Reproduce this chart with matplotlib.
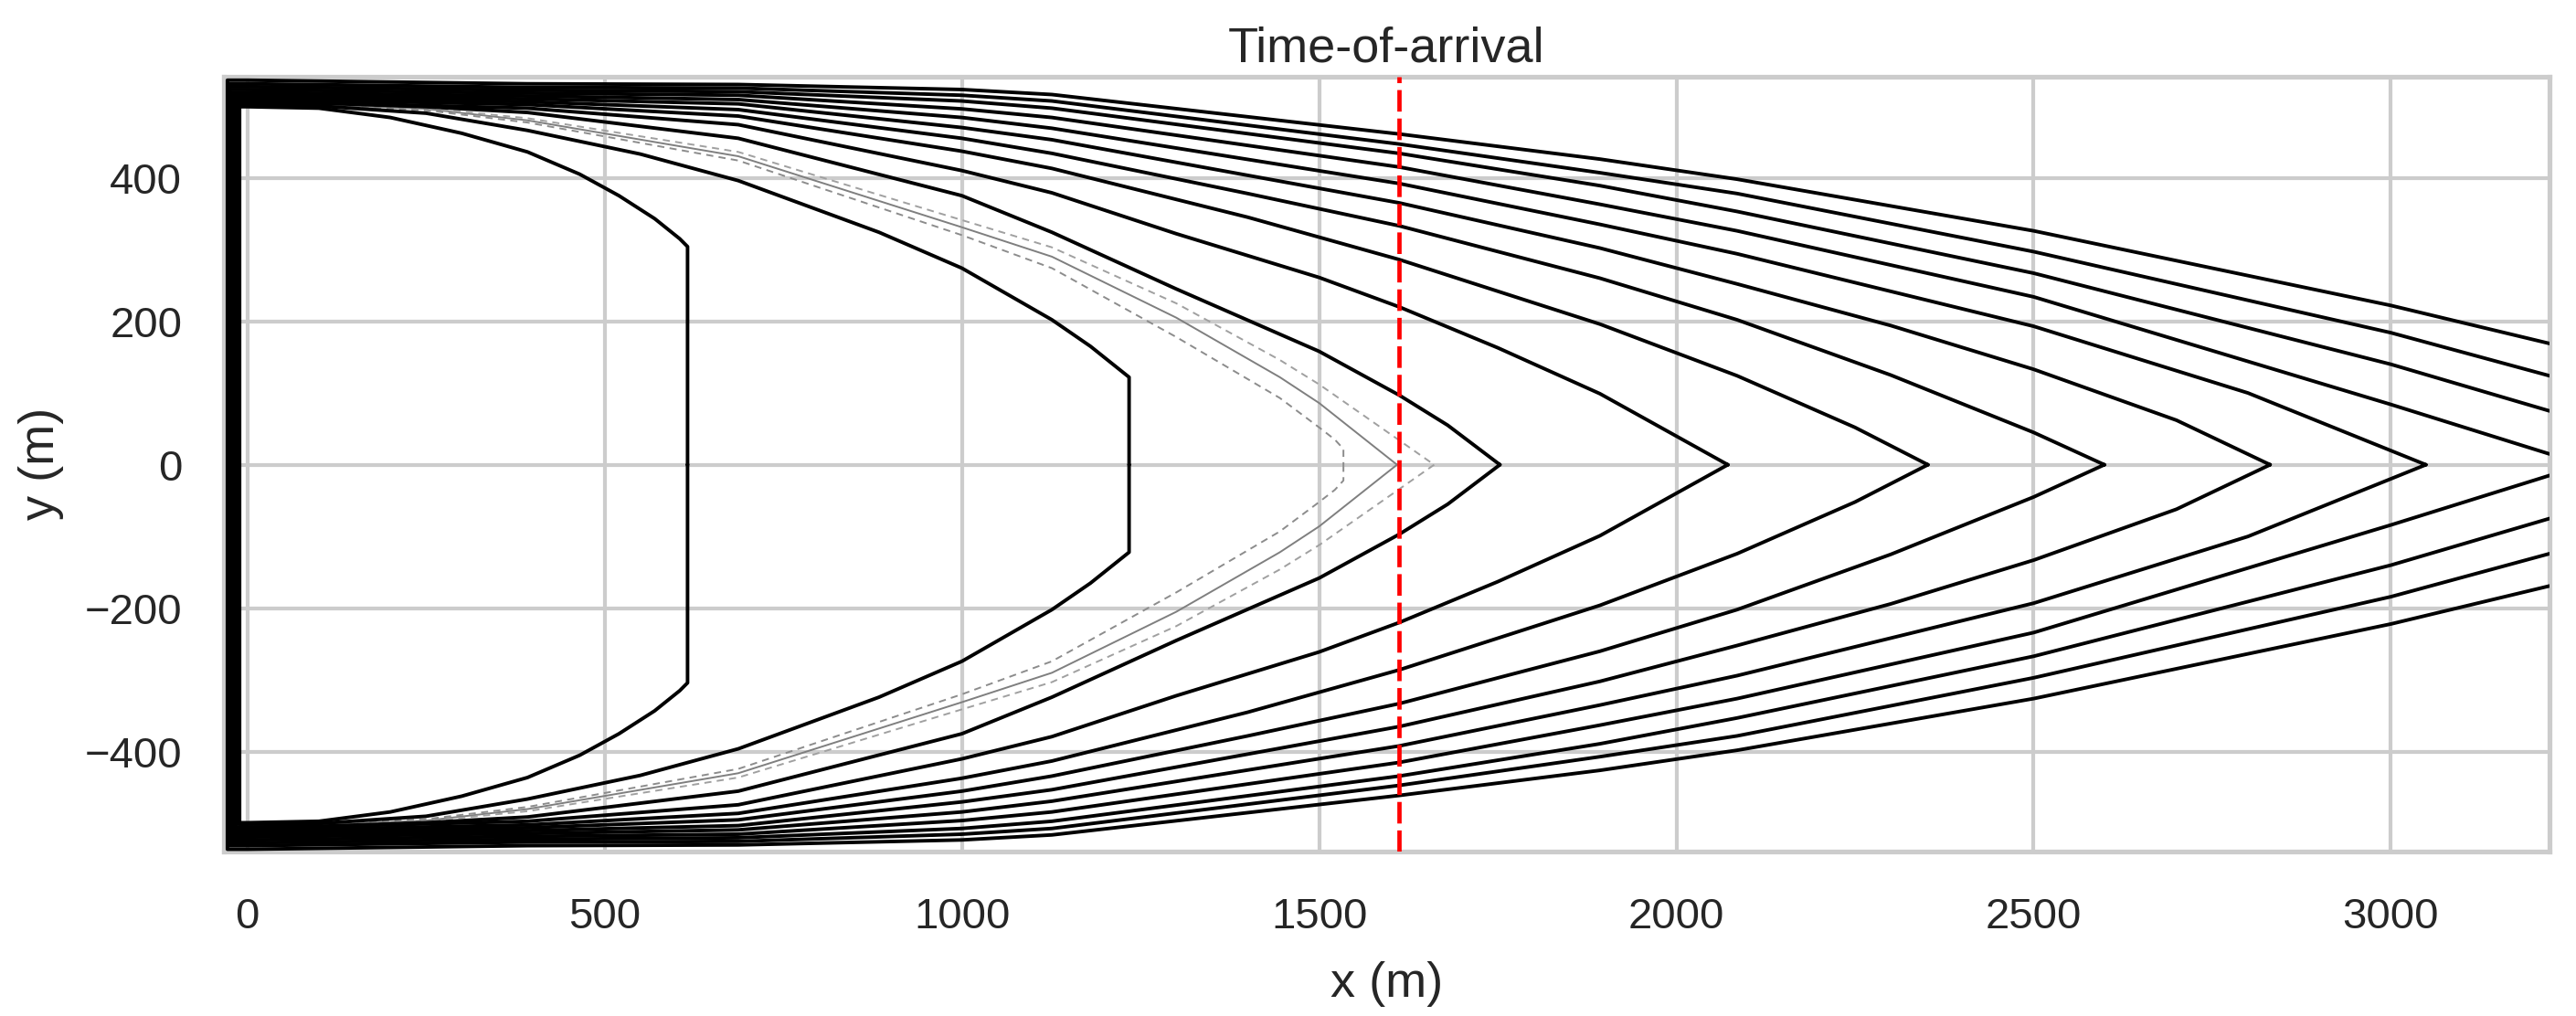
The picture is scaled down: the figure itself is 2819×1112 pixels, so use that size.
import matplotlib
matplotlib.use("Agg")
import matplotlib.pyplot as plt
import seaborn as sns

# ---------------------------------------------------------------------------
# Arrival fronts, upper half (y >= 0); the lower half
# is the mirror image. LEFT_LEG is the x of each front's leg on the left edge.
# ---------------------------------------------------------------------------

C1_X = [0, 100, 200, 300, 392, 465, 520, 570, 605, 616, 616]
C1_Y = [499, 497, 484, 462, 436, 405, 375, 343, 315, 304, 0]

C2_X = [0, 100, 250, 392, 550, 687, 884, 1000, 1126, 1180, 1234, 1234]
C2_Y = [501, 500, 490, 466, 433, 396, 324, 274, 202, 165, 122, 0]

G1_X = [0, 100, 250, 392, 687, 1000, 1126, 1300, 1445, 1500, 1522, 1534, 1534]
G1_Y = [502, 501, 494, 477, 424, 320, 274, 178, 93, 52, 35, 22, 0]

G2_X = [0, 100, 250, 392, 687, 1000, 1126, 1300, 1445, 1500, 1609]
G2_Y = [503, 502, 496, 480, 430, 331, 290, 205, 122, 86, 0]

G3_X = [0, 100, 250, 392, 687, 1000, 1126, 1300, 1445, 1500, 1661]
G3_Y = [504, 503, 497, 483, 436, 341, 303, 225, 146, 112, 0]

C3_X = [0, 100, 250, 392, 687, 1000, 1126, 1300, 1500, 1612, 1680, 1753]
C3_Y = [505, 504, 499, 491, 455, 375, 324, 245, 158, 97, 55, 0]

C4_X = [0, 392, 687, 1000, 1126, 1300, 1500, 1612, 1750, 1893, 2072]
C4_Y = [507, 497, 474, 410, 379, 322, 261, 220, 163, 99, 0]

C5_X = [0, 392, 687, 1000, 1126, 1400, 1612, 1893, 2085, 2250, 2352]
C5_Y = [510, 502, 486, 437, 413, 345, 286, 196, 124, 52, 0]

C6_X = [0, 392, 687, 1000, 1126, 1400, 1612, 1893, 2085, 2300, 2500, 2599]
C6_Y = [513, 506, 495, 455, 434, 378, 333, 260, 202, 125, 45, 0]

C7_X = [0, 392, 687, 1000, 1126, 1612, 1893, 2085, 2300, 2500, 2700, 2831]
C7_Y = [516, 510, 503, 470, 453, 365, 302, 252, 194, 133, 62, 0]

C8_X = [0, 392, 687, 1000, 1126, 1612, 1893, 2085, 2500, 2800, 3049]
C8_Y = [519, 514, 509, 484, 469, 392, 335, 294, 193, 100, 0]

# outer fronts leave the plot on the right edge
OUTER_X = [0, 392, 687, 1000, 1126, 1612, 1893, 2085, 2500, 3000, 3222]
C9_Y = [523, 518, 515, 496, 484, 415, 363, 326, 234, 84, 15]
C10_Y = [527, 522, 520, 507, 497, 434, 389, 353, 267, 140, 75]
C11_Y = [531, 526, 525, 515, 507, 447, 407, 378, 297, 184, 124]
C12_Y = [536, 531, 530, 523, 516, 461, 426, 398, 326, 222, 169]

LEFT_LEG = {"c1": -11, "c2": -12, "g1": -13, "g2": -14, "g3": -15,
            "c3": -16, "c4": -17.5, "c5": -19, "c6": -20.5, "c7": -22,
            "c8": -23, "c9": -24.5, "c10": -25.5, "c11": -26.5, "c12": -28}

MARKER_X = 1612  # red dashed reference line

XTICKS = [0, 500, 1000, 1500, 2000, 2500, 3000]
YTICKS = [-400, -200, 0, 200, 400]


def front_path(xs, ys, left):
    """Close the upper half with its mirror and the short left leg."""
    lower_x = list(reversed(xs))
    lower_y = [-v for v in reversed(ys)]
    px = lower_x + [left, left] + list(xs)
    py = lower_y + [-ys[0], ys[0]] + list(ys)
    return px, py


sns.set_theme(style="whitegrid", context="talk")
plt.rcParams["font.family"] = ["Liberation Sans", "DejaVu Sans"]

fig = plt.figure(figsize=(14.095, 5.56), dpi=200)
ax = fig.add_axes([0.0869, 0.162, 0.9028, 0.7626])

black = dict(color="black", linewidth=1.4, zorder=3, solid_joinstyle="round")
fronts = [
    (C1_X, C1_Y, "c1"), (C2_X, C2_Y, "c2"), (C3_X, C3_Y, "c3"),
    (C4_X, C4_Y, "c4"), (C5_X, C5_Y, "c5"), (C6_X, C6_Y, "c6"),
    (C7_X, C7_Y, "c7"), (C8_X, C8_Y, "c8"),
    (OUTER_X, C9_Y, "c9"), (OUTER_X, C10_Y, "c10"),
    (OUTER_X, C11_Y, "c11"), (OUTER_X, C12_Y, "c12"),
]
for xs, ys, key in fronts:
    px, py = front_path(xs, ys, LEFT_LEG[key])
    ax.plot(px, py, **black)

# uncertainty band of one front (grey)
px, py = front_path(G1_X, G1_Y, LEFT_LEG["g1"])
ax.plot(px, py, color="#8c8c8c", linewidth=0.7, linestyle=(0, (4, 3)), zorder=2)
px, py = front_path(G2_X, G2_Y, LEFT_LEG["g2"])
ax.plot(px, py, color="#7f7f7f", linewidth=0.7, zorder=2)
px, py = front_path(G3_X, G3_Y, LEFT_LEG["g3"])
ax.plot(px, py, color="#a0a0a0", linewidth=0.7, linestyle=(0, (4, 3)), zorder=2)

ax.axvline(MARKER_X, color="red", linewidth=1.7, linestyle=(0, (5, 1.6)), zorder=4)

ax.set_xlim(-33, 3222)
ax.set_ylim(-539, 541)
ax.set_xticks(XTICKS)
ax.set_yticks(YTICKS)
ax.tick_params(axis="x", labelsize=17, pad=9)
ax.tick_params(axis="y", labelsize=17, pad=7.5)
ax.set_xlabel("x (m)", fontsize=19.5, labelpad=9.5)
ax.set_ylabel("y (m)", fontsize=19.5, labelpad=8)
ax.set_title("Time-of-arrival", fontsize=19.5)

fig.savefig("out.png", dpi=200)
